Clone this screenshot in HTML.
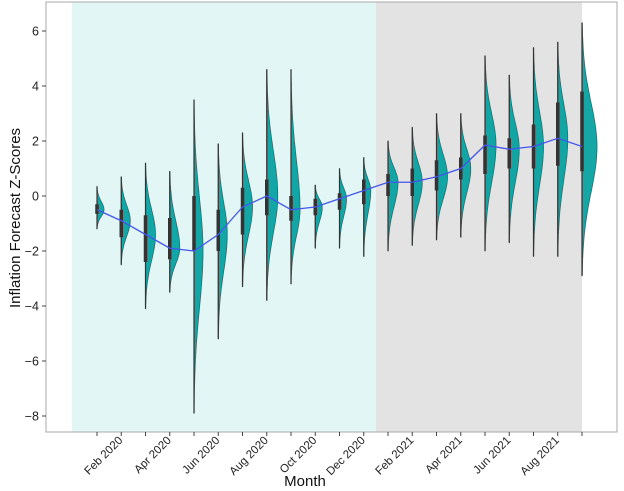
<!DOCTYPE html>
<html><head><meta charset="utf-8"><style>
html,body{margin:0;padding:0;background:#fff;}
svg{display:block;font-family:"Liberation Sans","DejaVu Sans",sans-serif;}
</style></head><body>
<svg id="s" width="624" height="491" viewBox="0 0 624 491" xmlns="http://www.w3.org/2000/svg">
<rect x="72" y="2" width="304" height="430" fill="#e2f6f5"/>
<rect x="376" y="2" width="206" height="430" fill="#e3e3e3"/>
<g id="v"></g>
<rect x="46" y="2" width="571" height="430" fill="none" stroke="#aaa" stroke-width="1"/>
<g id="ax" fill="#222"></g>
<text x="20" y="218" font-size="15" text-anchor="middle" transform="rotate(-90 20 218)" fill="#111">Inflation Forecast Z-Scores</text>
<text x="305" y="486" font-size="15" text-anchor="middle" fill="#111">Month</text>
</svg>
<script>
var d=[[-0.5,-1.2,0.35,-0.65,-0.3,7],[-0.9,-2.5,0.7,-1.5,-0.5,9],[-1.4,-4.1,1.2,-2.4,-0.7,10],[-1.9,-3.5,0.9,-2.3,-0.8,10],[-2.0,-7.9,3.5,-2.0,0.0,9],
[-1.4,-5.2,1.9,-2.0,-0.5,9],[-0.4,-3.3,2.3,-1.4,0.3,10],[0.0,-3.8,4.6,-0.7,0.6,11],[-0.5,-3.2,4.6,-0.9,0.0,9],[-0.4,-1.9,0.4,-0.7,-0.1,7],
[-0.1,-1.9,1.0,-0.5,0.1,7],[0.2,-2.2,1.4,-0.3,0.6,7],[0.5,-2.0,2.0,0.0,0.8,10],[0.5,-1.8,2.5,0.0,1.0,10],[0.7,-1.6,3.0,0.2,1.3,11],
[1.0,-1.5,3.0,0.6,1.4,10],[1.85,-2.0,5.1,0.8,2.2,11],[1.7,-1.7,4.4,1.0,2.1,10],[1.8,-2.2,5.4,1.0,2.6,10],[2.1,-2.2,5.6,1.1,3.4,10],[1.8,-2.9,6.3,0.9,3.8,15]];
var Y=function(v){return 196-27.5*v;},X=function(i){return 97+24.25*i;};
var g='',line='';
d.forEach(function(a,i){var x=X(i),m=a[0],mn=a[1],mx=a[2],W=a[5];
 var su=(mx-m)/2.0,sd=(m-mn)/2.0,pts=[];
 for(var k=0;k<=60;k++){var v=mx-(mx-mn)*k/60;var s=v>m?su:sd;var w=W*Math.exp(-Math.pow((v-m)/s,2));pts.push((x+w).toFixed(1)+','+Y(v).toFixed(1));}
 g+='<polygon points="'+x+','+Y(mx)+' '+pts.join(' ')+' '+x+','+Y(mn)+'" fill="rgba(0,160,158,0.92)" stroke="#4a5f5f" stroke-width="0.8"/>';
 g+='<line x1="'+x+'" x2="'+x+'" y1="'+Y(mx)+'" y2="'+Y(mn)+'" stroke="#333" stroke-width="1.2"/>';
 g+='<line x1="'+x+'" x2="'+x+'" y1="'+Y(a[4])+'" y2="'+Y(a[3])+'" stroke="#333" stroke-width="3.5"/>';
 line+=(i?' ':'')+x+','+Y(m);
});
g+='<polyline points="'+line+'" fill="none" stroke="#4455ee" stroke-width="1.3"/>';
document.getElementById('v').innerHTML=g;
var ax='';
for(var t=6;t>=-8;t-=2){var y=Y(t);ax+='<line x1="42" x2="46" y1="'+y+'" y2="'+y+'" stroke="#444"/><text x="39" y="'+(y+4.5)+'" font-size="12.5" text-anchor="end">'+(t<0?'\u2212'+(-t):t)+'</text>';}
var L=['Feb 2020','Apr 2020','Jun 2020','Aug 2020','Oct 2020','Dec 2020','Feb 2021','Apr 2021','Jun 2021','Aug 2021'];
for(var i=0;i<21;i++){var x=X(i);ax+='<line x1="'+x+'" x2="'+x+'" y1="432" y2="436" stroke="#444"/>';
 if(i%2==1){var lx=x+2,ly=441;ax+='<text x="'+lx+'" y="'+ly+'" font-size="11.5" text-anchor="end" transform="rotate(-45 '+lx+' '+ly+')">'+L[(i-1)/2]+'</text>';}}
document.getElementById('ax').innerHTML=ax;
</script>
</body></html>
